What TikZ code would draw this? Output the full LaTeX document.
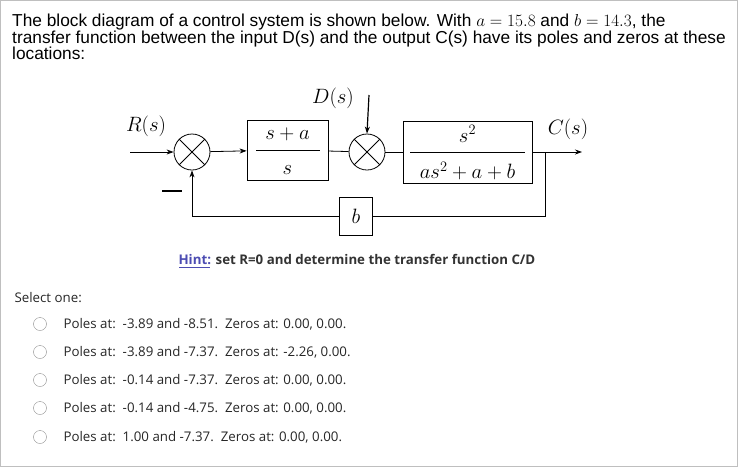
\documentclass[tikz,border=0pt]{standalone}
\usepackage{fontspec}
\setmainfont{Liberation Sans}
\newfontfamily\opensans{Open Sans}
\usetikzlibrary{arrows.meta}
\begin{document}
\begin{tikzpicture}[x=1pt,y=-1pt,
  blk/.style={draw,line width=0.8pt,inner sep=0pt},
  sum/.style={draw,circle,minimum size=36pt,inner sep=0pt,line width=0.8pt},
  ln/.style={line width=0.8pt},
  arr/.style={ln,-{Stealth[length=7pt,width=5pt]}},
  mth/.style={font=\huge},
  opt/.style={anchor=west,font=\opensans\fontsize{13.3}{15}\selectfont,text=black!85},
  radio/.style={draw=black!45,circle,minimum size=13pt,inner sep=0pt}]
\useasboundingbox (0,0) rectangle (740,467);
\draw[black!25] (0.5,0.5) rectangle (737,466);
\node[anchor=north west,align=left,font=\fontsize{17.3}{16.5}\selectfont,inner sep=0pt] (q) at (12,14)
 {The block diagram of a control system is shown below. With $a=15.8$ and $b=14.3$, the\\
  transfer function between the input D(s) and the output C(s) have its poles and zeros at these\\
  locations:};
% diagram
\node[sum] (s1) at (192,152) {};
\draw[ln] (s1.45) -- (s1.225) (s1.135) -- (s1.315);
\node[sum] (s2) at (367,152) {};
\draw[ln] (s2.45) -- (s2.225) (s2.135) -- (s2.315);
\node[blk,minimum width=81pt,minimum height=60pt] (g1) at (287.5,150) {};
\node[mth] at (287.5,134) {$s+a$};
\draw[ln] (256,150) -- (320,150);
\node[mth] at (287.5,170) {$s$};
\node[blk,minimum width=129pt,minimum height=62pt] (g2) at (467.5,152) {};
\node[mth] at (467.5,134) {$s^2$};
\draw[ln] (410,152) -- (525,152);
\node[mth] at (467.5,171) {$as^2+a+b$};
\node[blk,minimum width=33pt,minimum height=38pt] (hb) at (356,216) {};
\node[mth] at (hb) {$b$};
\node[mth] (R) at (146,126) {$R(s)$};
\node[mth] (D) at (333,98) {$D(s)$};
\node[mth] (C) at (568,129) {$C(s)$};
\coordinate (rin) at (130,152);
\coordinate (dtop) at (369,95);
\coordinate (out) at (582,152);
\coordinate (br) at (545,152);
\draw[arr] (rin) -- (s1);
\draw[arr] (s1) -- (g1);
\draw[ln] (g1) -- (s2);
\draw[arr,line width=1.2pt] (dtop) -- (s2.north);
\draw[ln] (s2) -- (g2);
\draw[arr] (g2) -- (out);
\draw[ln] (br) |- (hb);
\draw[arr] (hb) -| (s1.south);
\draw[line width=2.5pt] (162,191) -- (182,191);
\node[font=\opensans\bfseries\fontsize{13.3}{15}\selectfont,text=black!80,anchor=west] (hint) at (175,259)
 {\textcolor{blue!40!gray}{Hint:} set R=0 and determine the transfer function C/D};
\draw[blue!40!gray] (179,267) -- (210,267);
% options
\node[opt] (sel) at (11,298) {Select one:};
\foreach \y/\t [count=\i] in {324/{Poles at:\ \ -3.89 and -8.51.\ \ Zeros at: 0.00, 0.00.},
  352/{Poles at:\ \ -3.89 and -7.37.\ \ Zeros at: -2.26, 0.00.},
  380/{Poles at:\ \ -0.14 and -7.37.\ \ Zeros at: 0.00, 0.00.},
  408/{Poles at:\ \ -0.14 and -4.75.\ \ Zeros at: 0.00, 0.00.},
  437/{Poles at:\ \ 1.00 and -7.37.\ \ Zeros at: 0.00, 0.00.}}{
  \node[radio] (r\i) at (40,\y) {};
  \node[opt] (o\i) at (60,\y) {\t};
}
\end{tikzpicture}
\end{document}
